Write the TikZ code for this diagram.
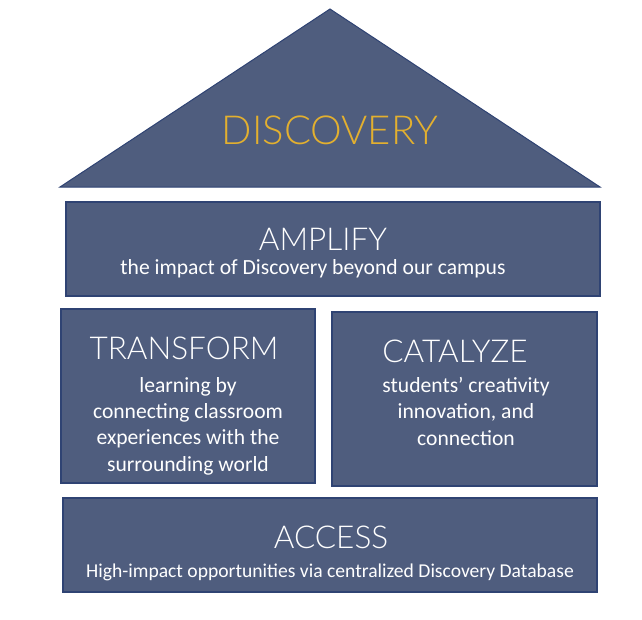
\documentclass[tikz,border=0pt]{standalone}
\usepackage{fontspec}
\usepackage{xcolor}
\usepackage{tikz}
\usetikzlibrary{positioning}
\setmainfont{Carlito}
\newfontfamily\titlefont{Lato Light}

\definecolor{slate}{HTML}{4F5D7E}
\definecolor{slateline}{HTML}{2F4373}
\definecolor{gold}{HTML}{E3B02F}

\begin{document}
\begin{tikzpicture}[x=1pt, y=-1pt]
\tikzstyle{pillar} = [rectangle, draw=slateline, fill=slate, line width=1.2pt, inner sep=0pt]
\tikzstyle{heading} = [anchor=base, text=white, inner sep=0pt, font=\titlefont\fontsize{31.5}{31.5}\selectfont]
\tikzstyle{body} = [anchor=base, text=white, inner sep=0pt, align=center, font=\fontsize{21.6}{26.3}\selectfont]

\useasboundingbox (0,0) rectangle (642,619);

% Roof
\draw[draw=slateline, fill=slate, line width=1pt] (60,187) -- (330,9) -- (600,187) -- cycle;
\node[anchor=base, text=gold, inner sep=0pt, font=\titlefont\fontsize{40}{40}\selectfont] (discovery) at (330,144) {DISCOVERY};

% Amplify
\node[pillar, minimum width=534pt, minimum height=94pt] (amplify) at (333,249) {};
\node[heading] (amplifytitle) at (323,250) {AMPLIFY};
\node[body] (amplifytext) at (313,274) {the impact of Discovery beyond our campus};

% Transform
\node[pillar, minimum width=254pt, minimum height=174pt] (transform) at (188,396) {};
\node[heading] (transformtitle) at (184,359) {TRANSFORM};
\node[body, anchor=north] (transformtext) at (188,377) {learning by\\connecting classroom\\experiences with the\\surrounding world};

% Catalyze
\node[pillar, minimum width=265pt, minimum height=174pt] (catalyze) at (464.5,399) {};
\node[heading] (catalyzetitle) at (455,362) {CATALYZE};
\node[body, anchor=north] (catalyzetext) at (466,377) {students’ creativity\\innovation, and\\connection};

% Access
\node[pillar, minimum width=534pt, minimum height=94pt] (access) at (330,545) {};
\node[heading] (accesstitle) at (331,548) {ACCESS};
\node[body, font=\fontsize{19.6}{22}\selectfont] (accesstext) at (330,577) {High-impact opportunities via centralized Discovery Database};
\end{tikzpicture}
\end{document}
